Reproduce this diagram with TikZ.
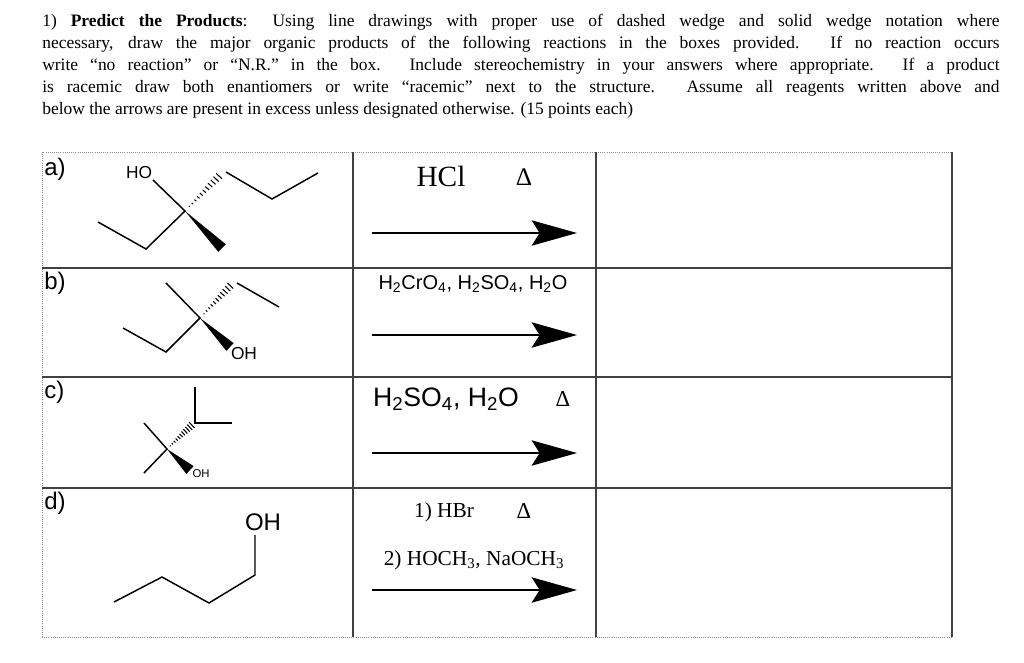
\documentclass[tikz,border=0pt]{standalone}
\usepackage{fontspec}
\setmainfont{Liberation Serif}
\setsansfont{Liberation Sans}
\usetikzlibrary{arrows.meta,calc}
\tikzset{
  bond/.style={line width=1.1pt},
  rxn/.style={line width=1.5pt,-{Stealth[length=34pt,width=19pt,inset=6pt]}},
  grid/.style={line width=0.9pt,draw=black!75},
  dotb/.style={line width=0.6pt,draw=black!45,densely dotted},
  lbl/.style={font=\sffamily\fontsize{18}{18}\selectfont,inner sep=0pt},
  atom/.style={font=\sffamily\fontsize{13}{13}\selectfont,inner sep=1pt},
  reag/.style={inner sep=0pt}
}
\newcommand{\hashw}[2]{%
  \foreach \t in {0.12,0.2,...,1.0}{%
    \draw[line width=0.8pt] ($(#1)!\t!(#2)!{3.2pt*\t}!90:(#2)$) -- ($(#1)!\t!(#2)!{-3.2pt*\t}!90:(#2)$);
  }}
\newcommand{\solw}[2]{%
  \fill ($(#2)!4pt!90:(#1)$) -- (#1) -- ($(#2)!4pt!-90:(#1)$) -- cycle;}
\begin{document}
\begin{tikzpicture}[x=0.75pt,y=-0.75pt]
\useasboundingbox (0,0) rectangle (1024,662);
\node[anchor=north west,inner sep=0pt,text width=718pt,align=justify,font=\fontsize{13.1}{16.5}\selectfont] (hdr) at (42,14)
{1) \textbf{Predict the Products}: Using line drawings with proper use of dashed wedge and solid wedge notation where\linebreak necessary, draw the major organic products of the following reactions in the boxes provided. If no reaction occurs\linebreak write “no reaction” or “N.R.” in the box. Include stereochemistry in your answers where appropriate. If a product\linebreak is racemic draw both enantiomers or write “racemic” next to the structure. Assume all reagents written above and\linebreak below the arrows are present in excess unless designated otherwise. (15 points each)};
% table
\draw[dotb] (42,637) -- (42,152) -- (952,152);
\draw[dotb] (42,637) -- (952,637);
\draw[grid] (42,268) -- (952,268);
\draw[grid] (42,377) -- (952,377);
\draw[grid] (42,488) -- (952,488);
\draw[grid] (353,152) -- (353,637);
\draw[grid] (596,152) -- (596,637);
\draw[grid] (952,152) -- (952,637);
% labels
\node[lbl,anchor=north west] (la) at (44,158) {a)};
\node[lbl,anchor=north west] (lb) at (44,272) {b)};
\node[lbl,anchor=north west] (lc) at (44,381) {c)};
\node[lbl,anchor=north west] (ld) at (44,492) {d)};
% molecule a
\coordinate (aC) at (185,211);
\coordinate (aO) at (153,180);
\coordinate (a1) at (146,249); \coordinate (a2) at (98,222);
\coordinate (aW) at (222,248); \coordinate (aH) at (222,173);
\coordinate (a3) at (226,172); \coordinate (a4) at (272,199); \coordinate (a5) at (318,173);
\node[atom] (aHO) at (139,173) {HO};
\draw[bond] (aO) -- (aC) -- (a1) -- (a2);
\draw[bond] (a3) -- (a4) -- (a5);
\solw{aC}{aW}
\hashw{aC}{aH}
% molecule b
\coordinate (bC) at (200,318);
\coordinate (b0) at (166,283);
\coordinate (b1) at (166,352); \coordinate (b2) at (123,328);
\coordinate (bW) at (230,347); \coordinate (bH) at (233,283);
\coordinate (b3) at (237,283); \coordinate (b4) at (279,307);
\node[atom] (bOH) at (244,354) {OH};
\draw[bond] (b0) -- (bC) -- (b1) -- (b2);
\draw[bond] (b3) -- (b4);
\solw{bC}{bW}
\hashw{bC}{bH}
% molecule c
\coordinate (cC) at (167,449);
\coordinate (c1) at (144,423); \coordinate (c2) at (144,473);
\coordinate (cW) at (190,470); \coordinate (cH) at (194,423);
\coordinate (c3) at (195,387); \coordinate (c4) at (195,423); \coordinate (c5) at (232,423);
\node[atom,font=\sffamily\fontsize{8.5}{8.5}\selectfont] (cOH) at (201,474) {OH};
\draw[bond] (c1) -- (cC) -- (c2);
\draw[bond] (c3) -- (c4) -- (c5);
\solw{cC}{cW}
\hashw{cC}{cH}
% molecule d
\coordinate (d1) at (114,602); \coordinate (d2) at (162,577); \coordinate (d3) at (209,603);
\coordinate (d4) at (255,575); \coordinate (d5) at (255,535);
\node[atom,font=\sffamily\fontsize{18}{18}\selectfont] (dOH) at (263,522) {OH};
\draw[bond] (d1) -- (d2) -- (d3) -- (d4) -- (d5);
% arrows
\coordinate (s1) at (372,233); \coordinate (e1) at (577,233);
\coordinate (s2) at (372,335); \coordinate (e2) at (577,335);
\coordinate (s3) at (372,453); \coordinate (e3) at (577,453);
\coordinate (s4) at (372,590); \coordinate (e4) at (577,590);
\draw[rxn] (s1) -- (e1);
\draw[rxn] (s2) -- (e2);
\draw[rxn] (s3) -- (e3);
\draw[rxn] (s4) -- (e4);
% reagents
\node[reag,font=\fontsize{22}{22}\selectfont] (ra) at (441,176) {HCl};
\node[reag,font=\fontsize{19}{19}\selectfont] (rad) at (524,177) {Δ};
\node[reag,font=\sffamily\fontsize{15}{15}\selectfont] (rb) at (473,284) {H\textsubscript{2}CrO\textsubscript{4}, H\textsubscript{2}SO\textsubscript{4}, H\textsubscript{2}O};
\node[reag,font=\sffamily\fontsize{20}{20}\selectfont] (rc) at (446,399) {H\textsubscript{2}SO\textsubscript{4}, H\textsubscript{2}O};
\node[reag,font=\fontsize{17}{17}\selectfont] (rcd) at (563,399) {Δ};
\node[reag,font=\fontsize{16}{16}\selectfont] (rd1) at (444,512) {1) HBr};
\node[reag,font=\fontsize{17}{17}\selectfont] (rdd) at (524,511) {Δ};
\node[reag,font=\fontsize{16}{16}\selectfont] (rd2) at (474,560) {2) HOCH\textsubscript{3}, NaOCH\textsubscript{3}};
\end{tikzpicture}
\end{document}
